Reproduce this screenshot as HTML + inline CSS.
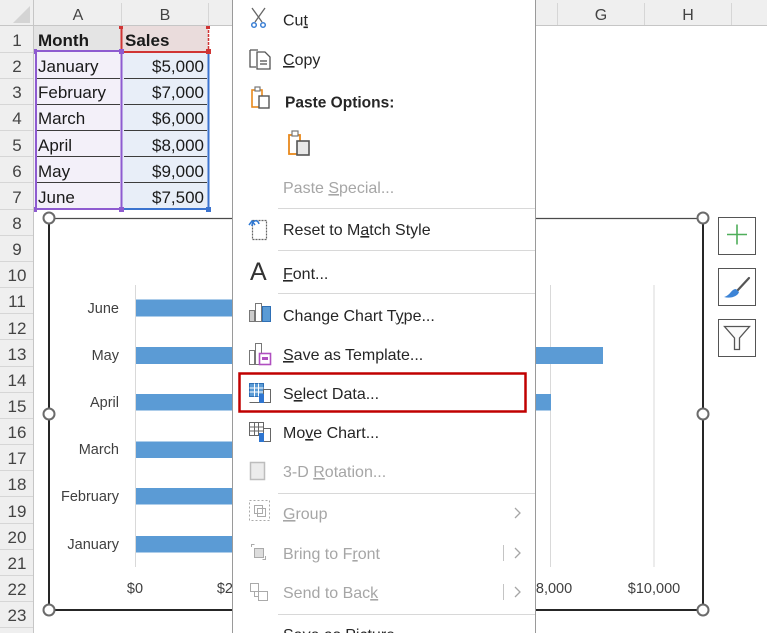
<!DOCTYPE html>
<html><head><meta charset="utf-8"><style>
html,body{margin:0;padding:0;background:#fff;}
svg{display:block;font-family:"Liberation Sans",sans-serif;}
</style></head><body>
<svg width="767" height="633" viewBox="0 0 767 633" xmlns="http://www.w3.org/2000/svg">
<rect x="0" y="0" width="767" height="633" fill="#fff"/>
<!-- headers -->
<rect x="0" y="0" width="767" height="26" fill="#efefef"/>
<rect x="0" y="0" width="34" height="633" fill="#efefef"/>
<line x1="0" y1="25.5" x2="767" y2="25.5" stroke="#c6c6c6"/>
<line x1="33.5" y1="0" x2="33.5" y2="633" stroke="#c6c6c6"/>
<polygon points="30,6 30,23 13,23" fill="#d4d4d4"/>
<g stroke="#d6d6d6">
<line x1="121.5" y1="3" x2="121.5" y2="25"/><line x1="208.5" y1="3" x2="208.5" y2="25"/>
<line x1="557.5" y1="3" x2="557.5" y2="25"/><line x1="644.5" y1="3" x2="644.5" y2="25"/><line x1="731.5" y1="3" x2="731.5" y2="25"/>
<line x1="0" y1="52.5" x2="33" y2="52.5"/><line x1="0" y1="78.5" x2="33" y2="78.5"/><line x1="0" y1="104.5" x2="33" y2="104.5"/>
<line x1="0" y1="130.5" x2="33" y2="130.5"/><line x1="0" y1="156.5" x2="33" y2="156.5"/><line x1="0" y1="182.5" x2="33" y2="182.5"/>
<line x1="0" y1="209.5" x2="33" y2="209.5"/><line x1="0" y1="235.5" x2="33" y2="235.5"/><line x1="0" y1="261.5" x2="33" y2="261.5"/>
<line x1="0" y1="287.5" x2="33" y2="287.5"/><line x1="0" y1="313.5" x2="33" y2="313.5"/><line x1="0" y1="339.5" x2="33" y2="339.5"/>
<line x1="0" y1="366.5" x2="33" y2="366.5"/><line x1="0" y1="392.5" x2="33" y2="392.5"/><line x1="0" y1="418.5" x2="33" y2="418.5"/>
<line x1="0" y1="444.5" x2="33" y2="444.5"/><line x1="0" y1="470.5" x2="33" y2="470.5"/><line x1="0" y1="496.5" x2="33" y2="496.5"/>
<line x1="0" y1="523.5" x2="33" y2="523.5"/><line x1="0" y1="549.5" x2="33" y2="549.5"/><line x1="0" y1="575.5" x2="33" y2="575.5"/>
<line x1="0" y1="601.5" x2="33" y2="601.5"/><line x1="0" y1="627.5" x2="33" y2="627.5"/>
</g>
<g font-size="16" fill="#444" text-anchor="middle">
<text x="78" y="20">A</text><text x="165" y="20">B</text><text x="601" y="20">G</text><text x="688" y="20">H</text>
</g>
<g font-size="17" fill="#444" text-anchor="middle">
<text x="17" y="46">1</text><text x="17" y="72">2</text><text x="17" y="98">3</text><text x="17" y="124">4</text>
<text x="17" y="151">5</text><text x="17" y="177">6</text><text x="17" y="203">7</text><text x="17" y="229">8</text>
<text x="17" y="255">9</text><text x="17" y="281">10</text><text x="17" y="307">11</text><text x="17" y="334">12</text>
<text x="17" y="360">13</text><text x="17" y="386">14</text><text x="17" y="412">15</text><text x="17" y="438">16</text>
<text x="17" y="464">17</text><text x="17" y="490">18</text><text x="17" y="517">19</text><text x="17" y="543">20</text>
<text x="17" y="569">21</text><text x="17" y="595">22</text><text x="17" y="621">23</text>
</g>
<!-- cells -->
<rect x="34" y="26" width="87" height="26" fill="#e4e4e4"/>
<rect x="121" y="26" width="87" height="26" fill="#eadcdc"/>
<rect x="34" y="52" width="87" height="157" fill="#f3f0f9"/>
<rect x="121" y="52" width="87" height="157" fill="#e8eef8"/>
<g stroke="#3c3c3c">
<line x1="36" y1="78.5" x2="120" y2="78.5"/><line x1="36" y1="104.5" x2="120" y2="104.5"/><line x1="36" y1="130.5" x2="120" y2="130.5"/>
<line x1="36" y1="156.5" x2="120" y2="156.5"/><line x1="36" y1="182.5" x2="120" y2="182.5"/>
<line x1="124" y1="78.5" x2="207" y2="78.5"/><line x1="124" y1="104.5" x2="207" y2="104.5"/><line x1="124" y1="130.5" x2="207" y2="130.5"/>
<line x1="124" y1="156.5" x2="207" y2="156.5"/><line x1="124" y1="182.5" x2="207" y2="182.5"/>
</g>
<g font-size="17" fill="#1a1a1a">
<text x="38" y="46" font-weight="bold">Month</text><text x="125" y="46" font-weight="bold">Sales</text>
<text x="38" y="72">January</text><text x="38" y="98">February</text><text x="38" y="124">March</text>
<text x="38" y="151">April</text><text x="38" y="177">May</text><text x="38" y="203">June</text>
</g>
<g font-size="17" fill="#1a1a1a" text-anchor="end">
<text x="204" y="72">$5,000</text><text x="204" y="98">$7,000</text><text x="204" y="124">$6,000</text>
<text x="204" y="151">$8,000</text><text x="204" y="177">$9,000</text><text x="204" y="203">$7,500</text>
</g>
<!-- selection borders -->
<line x1="122" y1="209" x2="208.5" y2="209" stroke="#3b73cf" stroke-width="2"/>
<line x1="208.5" y1="52" x2="208.5" y2="209" stroke="#3b73cf" stroke-width="2"/>
<rect x="36" y="51" width="85.5" height="158" fill="none" stroke="#8e5bd0" stroke-width="2"/>
<line x1="121.5" y1="26" x2="121.5" y2="51" stroke="#d03434" stroke-width="2"/>
<line x1="122" y1="52" x2="208" y2="52" stroke="#d03434" stroke-width="2"/>
<line x1="208.5" y1="26" x2="208.5" y2="51" stroke="#d03434" stroke-width="1.5" stroke-dasharray="3,1"/>
<rect x="119" y="26" width="4" height="3" fill="#d03434"/><rect x="206" y="26" width="4" height="3" fill="#d03434"/>
<rect x="119" y="49" width="5" height="5" fill="#8e5bd0"/><rect x="206" y="49" width="5" height="5" fill="#d03434"/>
<rect x="119" y="207" width="5" height="5" fill="#8e5bd0"/><rect x="206" y="207" width="5" height="5" fill="#3b73cf"/>
<rect x="34" y="49" width="3" height="5" fill="#8e5bd0"/><rect x="34" y="207" width="3" height="5" fill="#8e5bd0"/>
<!-- chart -->
<rect x="49" y="218" width="654" height="392" fill="#fff"/>
<line x1="49" y1="218.5" x2="703" y2="218.5" stroke="#4a4a4a" stroke-width="1.2"/>
<line x1="49" y1="610" x2="703" y2="610" stroke="#262626" stroke-width="2"/>
<line x1="49" y1="218" x2="49" y2="610" stroke="#262626" stroke-width="2"/>
<line x1="703" y1="218" x2="703" y2="610" stroke="#262626" stroke-width="2"/>
<g stroke="#d9d9d9">
<line x1="135.5" y1="285" x2="135.5" y2="567"/><line x1="239" y1="285" x2="239" y2="567"/><line x1="342.5" y1="285" x2="342.5" y2="567"/>
<line x1="446.5" y1="285" x2="446.5" y2="567"/><line x1="550.5" y1="285" x2="550.5" y2="567"/><line x1="654" y1="285" x2="654" y2="567"/>
</g>
<g fill="#5b9bd5">
<rect x="136" y="299.5" width="389" height="17"/>
<rect x="136" y="347" width="467" height="17"/>
<rect x="136" y="394" width="415" height="16.5"/>
<rect x="136" y="441.5" width="311" height="16.5"/>
<rect x="136" y="488" width="363" height="16.5"/>
<rect x="136" y="536" width="259" height="16.5"/>
</g>
<g font-size="14.5" fill="#404040" text-anchor="end">
<text x="119" y="313">June</text><text x="119" y="360">May</text><text x="119" y="407">April</text>
<text x="119" y="454">March</text><text x="119" y="501">February</text><text x="119" y="549">January</text>
</g>
<g font-size="14.5" fill="#404040" text-anchor="middle">
<text x="135" y="593">$0</text><text x="239" y="593">$2,000</text><text x="550" y="593">$8,000</text><text x="654" y="593">$10,000</text>
</g>
<g fill="#fff" stroke="#6b6b6b" stroke-width="2">
<circle cx="49" cy="218" r="5.5"/><circle cx="49" cy="414" r="5.5"/><circle cx="49" cy="610" r="5.5"/>
<circle cx="703" cy="218" r="5.5"/><circle cx="703" cy="414" r="5.5"/><circle cx="703" cy="610" r="5.5"/>
</g>
<!-- side buttons -->
<g fill="#fff" stroke="#555">
<rect x="718.5" y="217.5" width="37" height="37"/><rect x="718.5" y="268.5" width="37" height="37"/><rect x="718.5" y="319.5" width="37" height="37"/>
</g>
<g stroke="#4fae5a" stroke-width="1.6"><line x1="727" y1="234.5" x2="747" y2="234.5"/><line x1="737" y1="224.5" x2="737" y2="244.5"/></g>
<path d="M749,278 L737,291" stroke="#555" stroke-width="2.2" stroke-linecap="round"/>
<path d="M736,289 C731,289 731,295 724,297 C731,299 738,296 739,292 Z" fill="#3d84d6"/>
<path d="M724.5,326.5 L749.5,326.5 L739.5,338 L739.5,349.5 L734.5,349.5 L734.5,338 Z" fill="#fafafa" stroke="#555" stroke-width="1.3"/>
<!-- context menu -->
<rect x="232.5" y="-2" width="303" height="640" fill="#fff" stroke="#9a9a9a"/>
<g stroke="#d8d8d8">
<line x1="278" y1="208.5" x2="535" y2="208.5"/><line x1="278" y1="250.5" x2="535" y2="250.5"/><line x1="278" y1="293.5" x2="535" y2="293.5"/>
<line x1="278" y1="493.5" x2="535" y2="493.5"/><line x1="278" y1="614.5" x2="535" y2="614.5"/>
</g>
<g font-size="16" fill="#262626">
<text x="283" y="25.5">Cu<tspan text-decoration="underline">t</tspan></text>
<text x="283" y="65"><tspan text-decoration="underline">C</tspan>opy</text>
<text x="285" y="107.5" font-weight="bold" font-size="15.5">Paste Options:</text>
<text x="283" y="235">Reset to M<tspan text-decoration="underline">a</tspan>tch Style</text>
<text x="283" y="279"><tspan text-decoration="underline">F</tspan>ont...</text>
<text x="283" y="321">Change Chart T<tspan text-decoration="underline">y</tspan>pe...</text>
<text x="283" y="360"><tspan text-decoration="underline">S</tspan>ave as Template...</text>
<text x="283" y="399">S<tspan text-decoration="underline">e</tspan>lect Data...</text>
<text x="283" y="438">Mo<tspan text-decoration="underline">v</tspan>e Chart...</text>
<text x="283" y="640">Save as Picture...</text>
</g>
<g font-size="16" fill="#a6a6a6">
<text x="283" y="193">Paste <tspan text-decoration="underline">S</tspan>pecial...</text>
<text x="283" y="477">3-D <tspan text-decoration="underline">R</tspan>otation...</text>
<text x="283" y="519"><tspan text-decoration="underline">G</tspan>roup</text>
<text x="283" y="559">Bring to F<tspan text-decoration="underline">r</tspan>ont</text>
<text x="283" y="598">Send to Bac<tspan text-decoration="underline">k</tspan></text>
</g>
<g fill="none" stroke="#a6a6a6" stroke-width="1.3">
<polyline points="515,508 520,513 515,518"/><polyline points="515,548 520,553 515,558"/><polyline points="515,587 520,592 515,597"/>
</g>
<g stroke="#c4c4c4"><line x1="503.5" y1="545" x2="503.5" y2="561"/><line x1="503.5" y1="584" x2="503.5" y2="600"/></g>
<rect x="239.5" y="373.5" width="286" height="38" fill="none" stroke="#c00000" stroke-width="2.5"/>
<!-- icons -->
<g stroke="#666" stroke-width="1.3" fill="none">
<line x1="252" y1="8" x2="262" y2="22"/><line x1="265" y1="8" x2="255" y2="22"/>
</g>
<g stroke="#3b7fd4" stroke-width="1.5" fill="#fff"><circle cx="254" cy="25" r="2.3"/><circle cx="263" cy="25" r="2.3"/></g>
<g stroke="#555" stroke-width="1.3" fill="#fff">
<path d="M250,50 h8 M250,50 v17 h6"/>
<path d="M257,52 h8 l5,5 v12 h-13 z"/>
<line x1="260" y1="61" x2="267" y2="61"/><line x1="260" y1="64" x2="267" y2="64"/>
</g>
<rect x="252" y="90" width="10" height="17" fill="#fff" stroke="#e8891c" stroke-width="1.6"/>
<rect x="255" y="87" width="5" height="4" fill="#fff" stroke="#777" stroke-width="1.2"/>
<rect x="259" y="96" width="10" height="12" fill="#fff" stroke="#555" stroke-width="1.4"/>
<rect x="289" y="135" width="11" height="19" fill="#fff" stroke="#e8891c" stroke-width="1.8"/>
<rect x="292" y="131" width="6" height="5" fill="#fff" stroke="#777" stroke-width="1.2"/>
<rect x="297" y="141" width="12" height="14" fill="#e8e8e8" stroke="#555" stroke-width="1.6"/>
<rect x="252.5" y="220.5" width="14" height="19" fill="#fff" stroke="#666" stroke-width="1.2" stroke-dasharray="2,1"/>
<path d="M252,226 C252,220 258,219 259,224" fill="none" stroke="#2f79d4" stroke-width="1.5"/>
<path d="M249,225 l3,-4 l3,4" fill="none" stroke="#2f79d4" stroke-width="1.5"/>
<text x="250" y="280" font-size="25" fill="#333">A</text>
<rect x="249.5" y="310.5" width="5" height="11" fill="#ccc" stroke="#777"/>
<rect x="255.5" y="303.5" width="6" height="18" fill="#fff" stroke="#777"/>
<rect x="262.5" y="306.5" width="8" height="15" fill="#5b9bd5" stroke="#2e6fb5"/>
<rect x="249.5" y="350.5" width="5" height="14" fill="#fff" stroke="#777"/>
<rect x="255.5" y="343.5" width="6" height="21" fill="#fff" stroke="#777"/>
<rect x="259.5" y="353.5" width="11" height="11" fill="#fff" stroke="#b04fc0" stroke-width="1.6"/>
<rect x="262" y="357" width="6" height="3" fill="#b04fc0"/>
<rect x="249.5" y="383.5" width="14" height="13" fill="#5b9bd5" stroke="#2e6fb5"/>
<path d="M249.5,388 h14 M249.5,392 h14 M254.5,383.5 v13 M258.5,383.5 v13" stroke="#fff"/>
<rect x="263.5" y="389.5" width="7" height="13" fill="#fff" stroke="#666"/>
<rect x="259" y="394" width="5" height="9" fill="#2e75d0"/>
<path d="M249.5,402.5 h10" stroke="#666"/>
<rect x="249.5" y="422.5" width="14" height="13" fill="#fff" stroke="#666"/>
<path d="M249.5,427 h14 M249.5,431 h14 M254.5,422.5 v13 M258.5,422.5 v13" stroke="#666"/>
<rect x="263.5" y="428.5" width="7" height="13" fill="#fff" stroke="#666"/>
<rect x="259" y="433" width="5" height="9" fill="#2e75d0"/>
<rect x="250.5" y="462.5" width="14" height="17" fill="#ececec" stroke="#bdbdbd" stroke-width="1.5"/>
<rect x="249.5" y="500.5" width="20" height="20" fill="none" stroke="#aaa" stroke-dasharray="2,2"/>
<rect x="254.5" y="505.5" width="8" height="8" fill="none" stroke="#aaa"/>
<rect x="257.5" y="508.5" width="8" height="8" fill="none" stroke="#aaa"/>
<path d="M251.5,547 v-2.5 h3" fill="none" stroke="#aaa"/>
<rect x="254.5" y="548.5" width="9" height="9" fill="#ddd" stroke="#aaa"/>
<path d="M265.5,556 v3.5 h-3" fill="none" stroke="#aaa"/>
<rect x="250.5" y="583.5" width="8" height="8" fill="#fff" stroke="#aaa"/>
<rect x="258.5" y="591.5" width="9" height="9" fill="#fff" stroke="#aaa"/>
<path d="M254.5,591.5 v5 h4" fill="none" stroke="#aaa"/>
</svg>
</body></html>
